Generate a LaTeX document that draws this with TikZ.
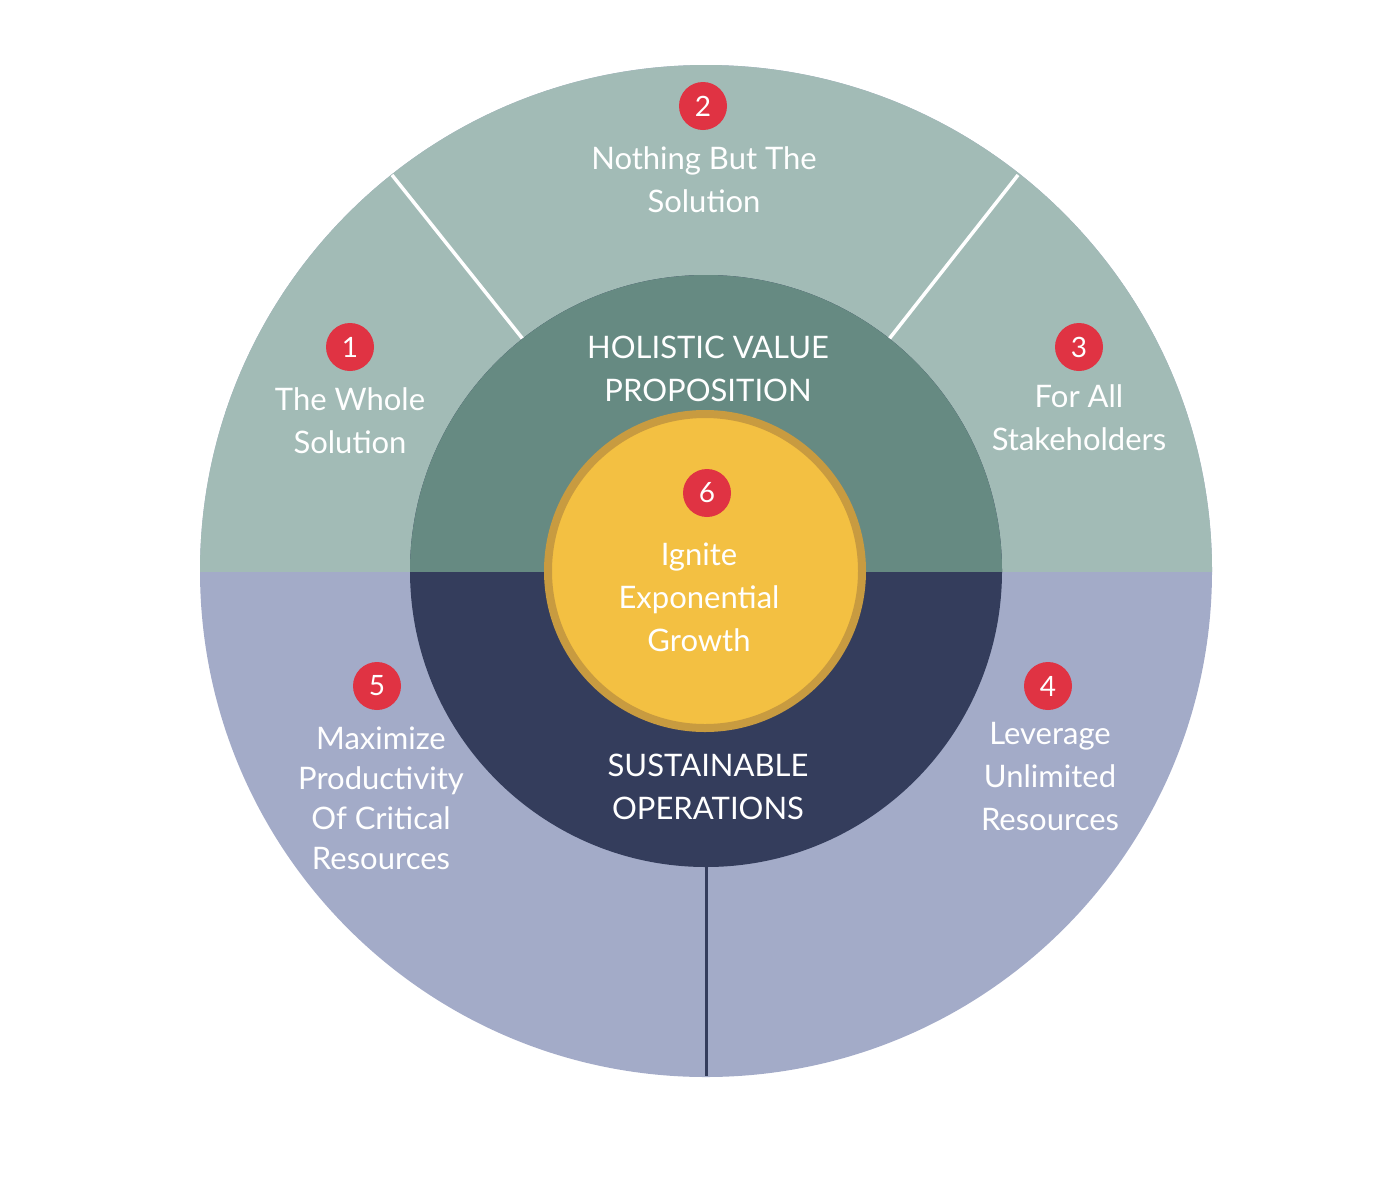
\documentclass[tikz,border=0pt]{standalone}
\usepackage{fontspec}
\setmainfont{Lato}
\definecolor{outtop}{HTML}{A2BBB6}
\definecolor{midtop}{HTML}{668A82}
\definecolor{outbot}{HTML}{A3ABC8}
\definecolor{midbot}{HTML}{343D5C}
\definecolor{core}{HTML}{F3C042}
\definecolor{coreb}{HTML}{C89B40}
\definecolor{badge}{HTML}{E03343}
\tikzset{
 num/.style={circle,fill=badge,text=white,minimum size=48pt,inner sep=0pt,font=\fontsize{28}{30}\selectfont},
 lbl/.style={text=white,align=center,font=\fontsize{31}{43}\selectfont},
}
\begin{document}
\begin{tikzpicture}[x=1pt,y=-1pt]
\useasboundingbox (0,0) rectangle (1394,1184);
\coordinate (c) at (706,571);
\fill[outbot] (c) circle[radius=506pt];
\begin{scope}\clip (0,0) rectangle (1394,571);
\fill[outtop] (c) circle[radius=506pt];
\end{scope}
\coordinate (l1a) at (392,175); \coordinate (l1b) at (530,348);
\coordinate (l2a) at (1018,175); \coordinate (l2b) at (882,348);
\draw[white,line width=3.5pt] (l1a) -- (l1b);
\draw[white,line width=3.5pt] (l2a) -- (l2b);
\coordinate (b1) at (706,860); \coordinate (b2) at (706,1076);
\draw[midbot,line width=3pt] (b1) -- (b2);
\fill[midbot] (c) circle[radius=296pt];
\begin{scope}\clip (0,0) rectangle (1394,571);
\fill[midtop] (c) circle[radius=296pt];
\end{scope}
\fill[core,draw=coreb,line width=8pt] (705,571) circle[radius=157pt];
\node[num] (n2) at (703,106) {2};
\node[lbl] (t2) at (704,180) {Nothing But The\\Solution};
\node[num] (n1) at (350,347) {1};
\node[lbl] (t1) at (350,421) {The Whole\\Solution};
\node[num] (n3) at (1079,347) {3};
\node[lbl] (t3) at (1079,418) {For All\\Stakeholders};
\node[lbl] (h) at (708,369) {HOLISTIC VALUE\\PROPOSITION};
\node[num] (n6) at (707,493) {6};
\node[lbl] (t6) at (699,597) {Ignite\\Exponential\\Growth};
\node[lbl] (s) at (708,787) {SUSTAINABLE\\OPERATIONS};
\node[num] (n4) at (1048,686) {4};
\node[lbl] (t4) at (1050,777) {Leverage\\Unlimited\\Resources};
\node[num] (n5) at (377,686) {5};
\node[lbl,font=\fontsize{31}{40}\selectfont] (t5) at (381,798) {Maximize\\Productivity\\Of Critical\\Resources};
\end{tikzpicture}
\end{document}
